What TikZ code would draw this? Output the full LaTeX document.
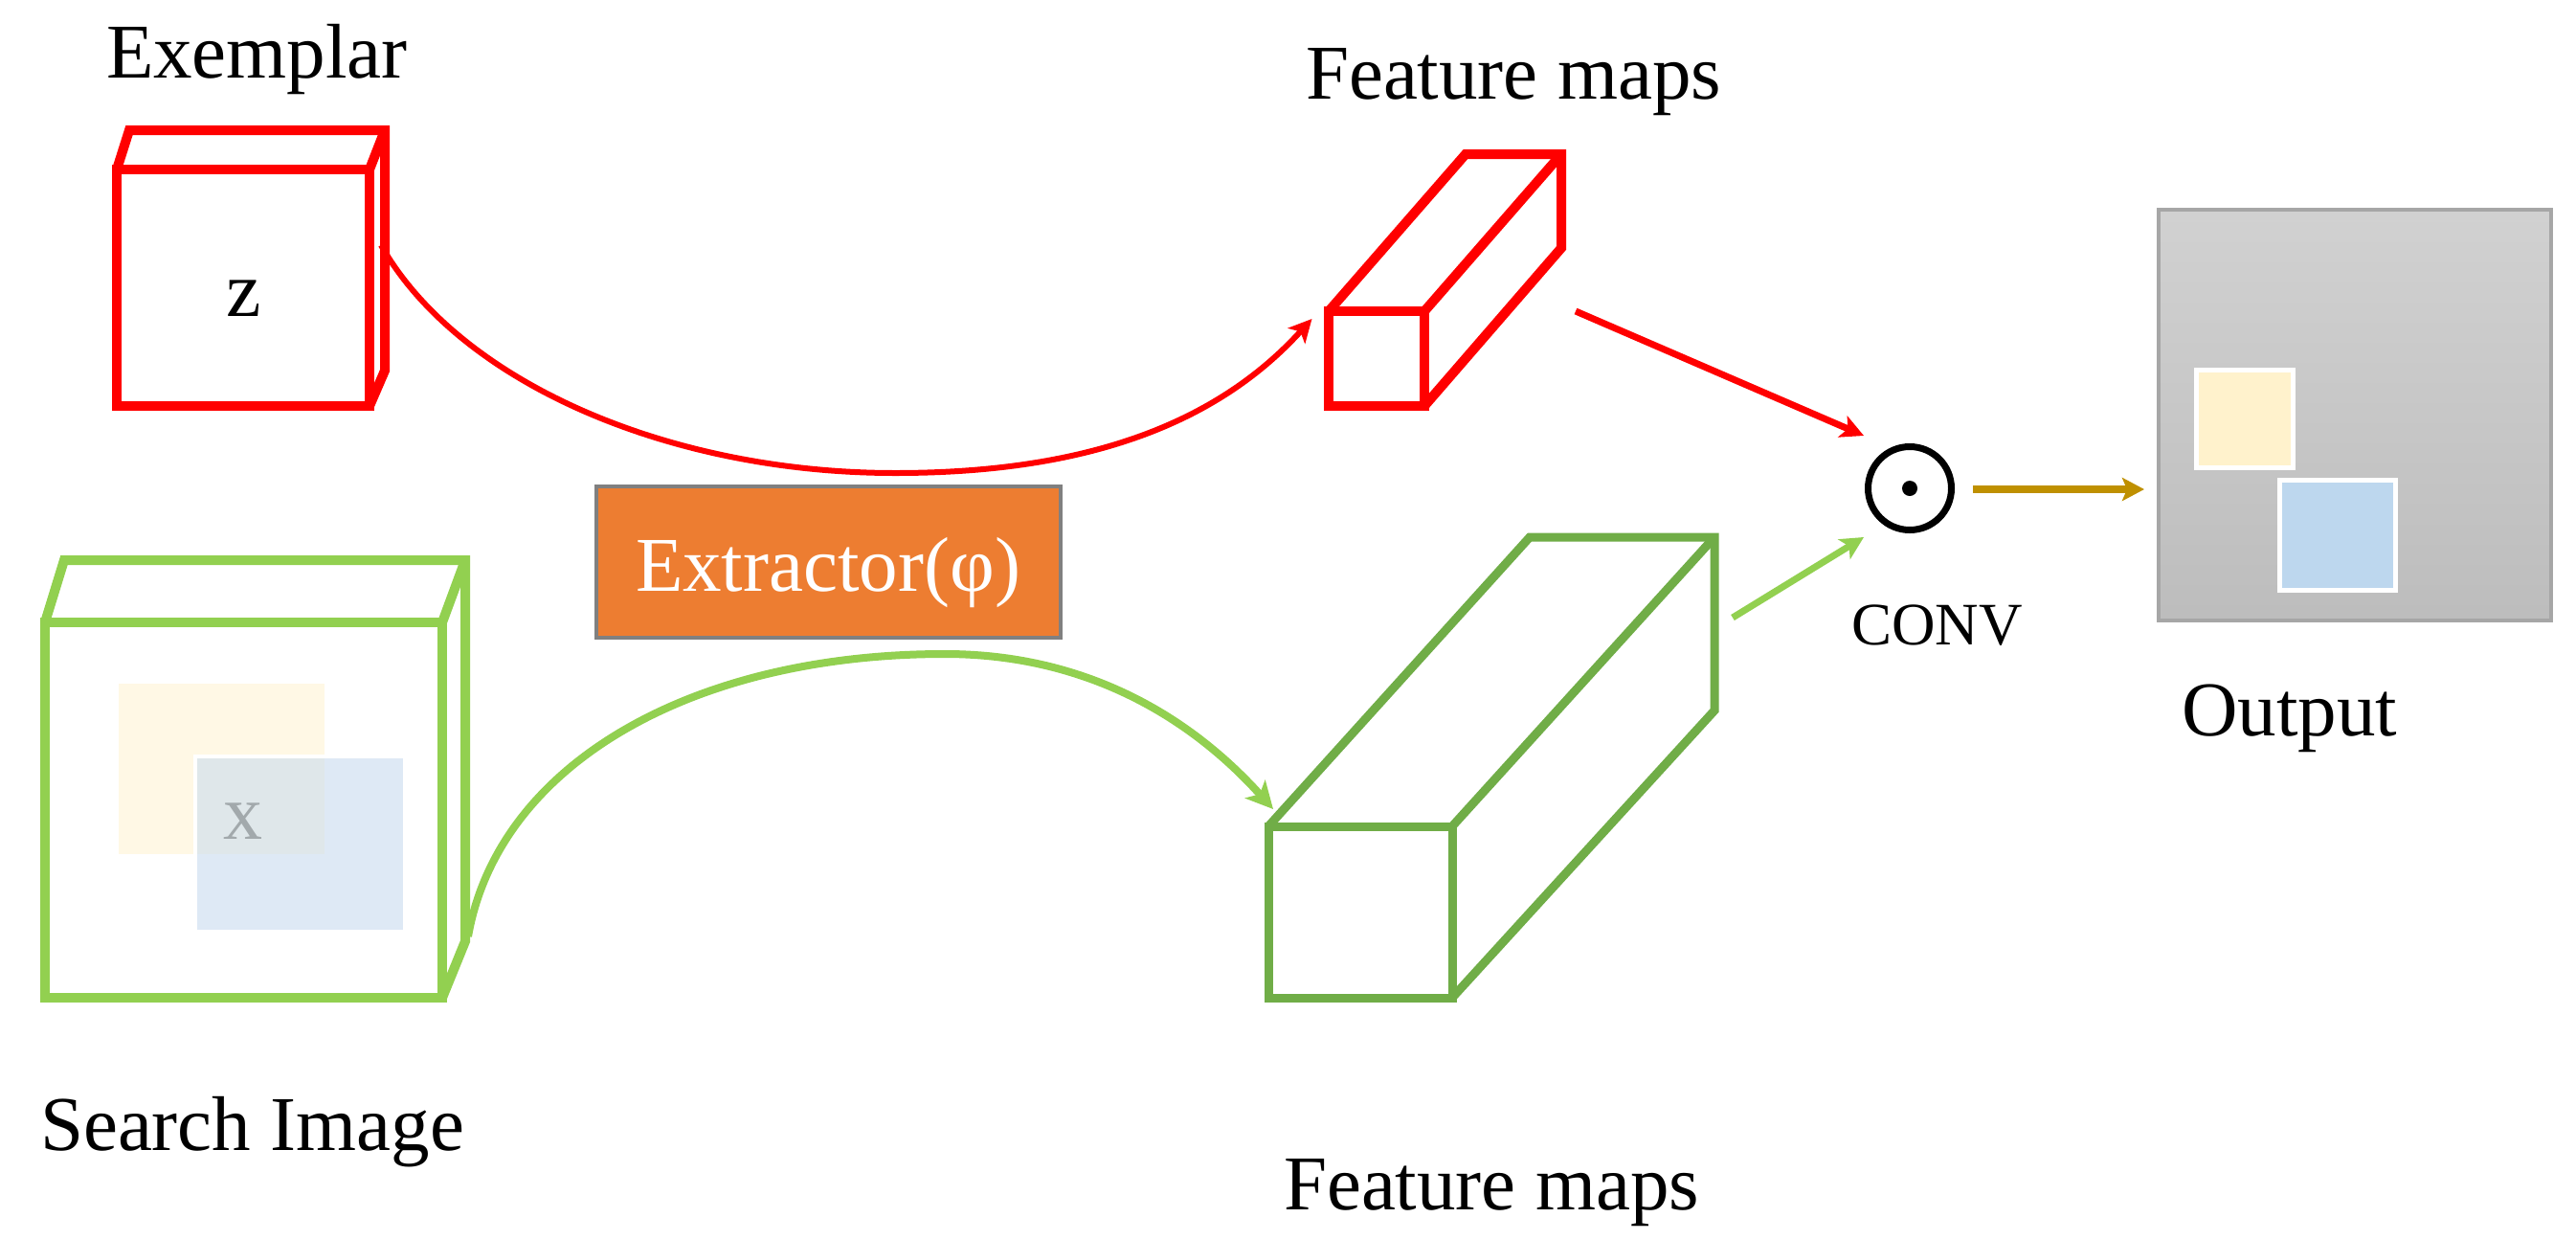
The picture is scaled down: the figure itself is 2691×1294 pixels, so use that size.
\documentclass[tikz,border=0pt]{standalone}
\usepackage{fontspec}
\setmainfont{Liberation Serif}
\usetikzlibrary{arrows.meta,shapes.geometric}
\definecolor{cred}{HTML}{FF0000}
\definecolor{clime}{HTML}{92D050}
\definecolor{cgreen}{HTML}{70AD47}
\definecolor{cgold}{HTML}{BF9000}
\definecolor{corange}{HTML}{ED7D31}
\definecolor{cyelpale}{HTML}{FFF8E5}
\definecolor{cbluepale}{HTML}{DEE9F5}
\definecolor{coverlap}{HTML}{DFE7EA}
\definecolor{ctextgrey}{HTML}{A2A9AC}
\definecolor{cyel}{HTML}{FFF2CC}
\definecolor{cblue}{HTML}{BDD7EE}
\tikzset{
  lab/.style={inner sep=0pt,outer sep=0pt,anchor=base west,font=\fontsize{81}{81}\selectfont},
  redbox/.style={draw=cred,line width=10pt,line join=miter},
  limebox/.style={draw=clime,line width=10pt,line join=miter},
  greenbox/.style={draw=cgreen,line width=9pt,line join=miter},
  redarrow/.style={draw=cred,line width=7pt,-{Stealth[length=24pt,width=24pt,inset=6pt]}},
  limearrow/.style={draw=clime,line width=7pt,-{Stealth[length=24pt,width=24pt,inset=6pt]}},
  goldarrow/.style={draw=cgold,line width=8pt,-{Stealth[length=23pt,width=24pt,inset=5pt]}},
  redcurve/.style={draw=cred,line width=6pt,-{Stealth[length=24pt,width=24pt,inset=6pt]}},
  limecurve/.style={draw=clime,line width=8pt,-{Stealth[length=28pt,width=28pt,inset=7pt]}},
}
\begin{document}
\begin{tikzpicture}[x=1pt,y=-1pt]
\useasboundingbox (0,0) rectangle (2691,1294);
\fill[white] (0,0) rectangle (2691,1294);

% exemplar cube
\draw[redbox] (122,177) rectangle (386,424);
\draw[redbox] (122,177) -- (135,136) -- (402,136) -- (402,387) -- (386,424);
\draw[redbox] (386,177) -- (402,136);
\node[lab,anchor=base,font=\fontsize{82}{82}\selectfont] (zlab) at (255,330) {z};
\node[lab] (exemplar) at (111,81) {Exemplar};

% search cube
\fill[cyelpale] (124,714) rectangle (339,892);
\fill[white] (202,788) rectangle (339,892);
\fill[cbluepale] (206,792) rectangle (421,971);
\fill[coverlap] (206,792) rectangle (339,892);
\node[lab,anchor=base,text=ctextgrey,font=\fontsize{82}{82}\selectfont] (xlab) at (254,876) {x};
\draw[limebox] (47,650) rectangle (462,1042);
\draw[limebox] (47,650) -- (67,585) -- (486,585) -- (486,983) -- (462,1042);
\draw[limebox] (462,650) -- (486,585);
\node[lab] (search) at (42,1201) {Search Image};

% red feature box
\draw[redbox] (1388,325) rectangle (1488,424);
\draw[redbox] (1388,325) -- (1531,161) -- (1631,161) -- (1631,259) -- (1488,424);
\draw[redbox] (1488,325) -- (1631,161);
\node[lab] (ftop) at (1364,103) {Feature maps};

% green feature box
\draw[greenbox] (1325,863) rectangle (1517,1042);
\draw[greenbox] (1325,863) -- (1598,561) -- (1791,561) -- (1791,742) -- (1517,1042);
\draw[greenbox] (1517,863) -- (1791,561);
\node[lab] (fbot) at (1341,1263) {Feature maps};

% extractor
\node[draw=black!50,line width=4pt,fill=corange,minimum width=485pt,minimum height=158pt,inner sep=0pt,outer sep=0pt,anchor=north west] (extractor) at (623,508) {};
\node[lab,text=white] (extlab) at (664,617) {Extractor(φ)};

% conv
\node[circle,draw=black,line width=7pt,minimum size=87pt,inner sep=0pt,outer sep=0pt] (conv) at (1995,510) {};
\node[circle,fill=black,minimum size=16pt,inner sep=0pt] (dot) at (conv.center) {};
\node[lab,font=\fontsize{63}{63}\selectfont] (convlab) at (1934,673) {CONV};

% output
\node[draw=black!35,line width=4pt,top color=black!18,bottom color=black!26,minimum width=410pt,minimum height=429pt,inner sep=0pt,outer sep=0pt,anchor=north west] (output) at (2255.4,219) {};
\node[draw=white,line width=5pt,fill=cyel,minimum width=101pt,minimum height=102pt,inner sep=0pt,outer sep=0pt,anchor=north west] (outy) at (2294.5,386.5) {};
\node[draw=white,line width=5pt,fill=cblue,minimum width=121pt,minimum height=115pt,inner sep=0pt,outer sep=0pt,anchor=north west] (outb) at (2381.5,501.5) {};
\node[lab] (outlab) at (2279,768) {Output};

% connectors
\coordinate (redfrom) at (398,256);
\coordinate (redmid) at (935,494);
\coordinate (redto) at (1370.5,333);
\draw[redcurve] (redfrom) .. controls (480,400) and (700,494) .. (redmid) .. controls (1110,494) and (1260,455) .. (redto);
\coordinate (limefrom) at (489,978);
\coordinate (limemid) at (987,683);
\coordinate (limeto) at (1330,845);
\draw[limecurve] (limefrom) .. controls (520,800) and (720,683) .. (limemid) .. controls (1130,683) and (1240,745) .. (limeto);
\coordinate (ra) at (1646,325);
\coordinate (rb) at (1947,455);
\draw[redarrow] (ra) -- (rb);
\coordinate (ga) at (1810,645);
\coordinate (gb) at (1947,561);
\draw[limearrow] (ga) -- (gb);
\coordinate (oa) at (2061,511);
\coordinate (ob) at (2240,511);
\draw[goldarrow] (oa) -- (ob);
\end{tikzpicture}
\end{document}
